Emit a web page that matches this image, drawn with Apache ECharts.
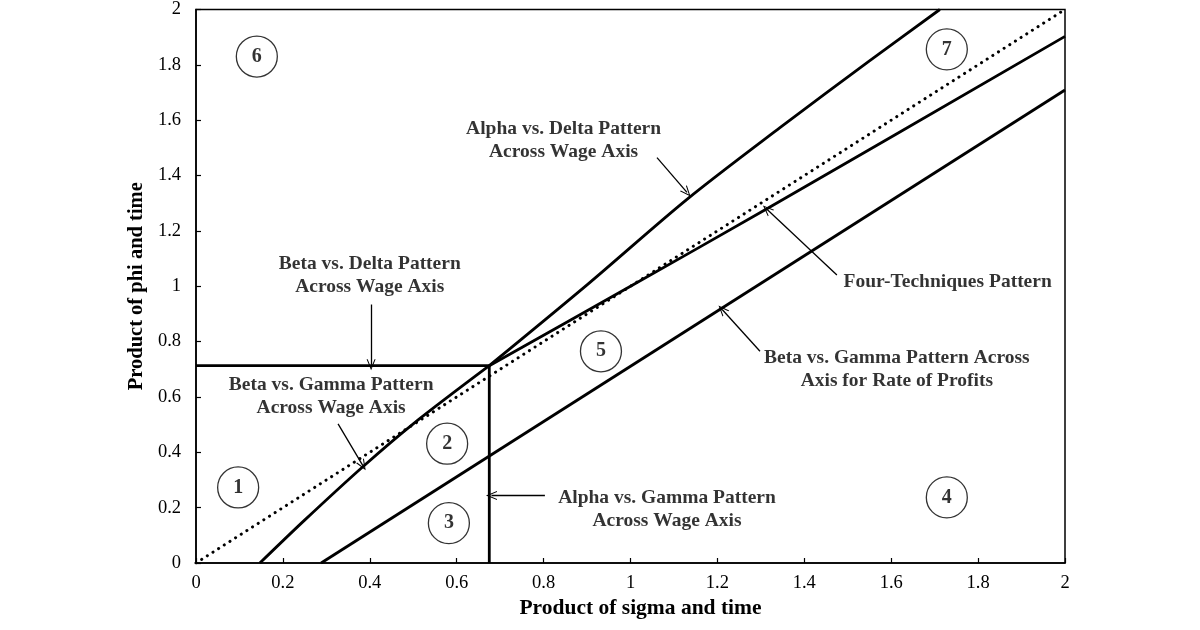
<!DOCTYPE html>
<html>
<head>
<meta charset="utf-8">
<script src="https://cdn.jsdelivr.net/npm/echarts@6/dist/echarts.min.js"></script>
<style>html,body{margin:0;padding:0;background:#fff}#c{width:1200px;height:630px}</style>
</head>
<body>
<div id="c"></div>
<script>
// ---- data ----
var xTicks = [0, 0.2, 0.4, 0.6, 0.8, 1, 1.2, 1.4, 1.6, 1.8, 2];
var yTicks = [0, 0.2, 0.4, 0.6, 0.8, 1, 1.2, 1.4, 1.6, 1.8, 2];
var diagonal = [[0, 0], [2, 2]];
var betaGammaWage = [[0.147, 0], [0.25, 0.155], [0.384, 0.348], [0.5, 0.503], [0.675, 0.713]];
var alphaDelta = [[0.675, 0.713], [0.9, 1.005], [1.13, 1.314], [1.344, 1.573], [1.55, 1.814], [1.712, 2]];
var fourTech = [[0.675, 0.713], [1.0, 1.0], [1.312, 1.278], [2, 1.903]];
var betaGammaProfit = [[0.288, 0], [2, 1.709]];
var betaDelta = [[0, 0.713], [0.675, 0.713]];
var alphaGamma = [[0.675, 0], [0.675, 0.713]];
var regions = [
  {name: '1', x: 0.097, y: 0.273},
  {name: '2', x: 0.578, y: 0.431},
  {name: '3', x: 0.582, y: 0.144},
  {name: '4', x: 1.728, y: 0.237},
  {name: '5', x: 0.932, y: 0.765},
  {name: '6', x: 0.140, y: 1.830},
  {name: '7', x: 1.728, y: 1.856}
];
var notes = [
  {text: 'Alpha vs. Delta Pattern\nAcross Wage Axis', x: 0.846, y: 1.526, from: [1.061, 1.465], to: [1.130, 1.339]},
  {text: 'Beta vs. Delta Pattern\nAcross Wage Axis', x: 0.400, y: 1.038, from: [0.403, 0.934], to: [0.403, 0.716]},
  {text: 'Beta vs. Gamma Pattern\nAcross Wage Axis', x: 0.311, y: 0.603, from: [0.327, 0.503], to: [0.384, 0.352]},
  {text: 'Alpha vs. Gamma Pattern\nAcross Wage Axis', x: 1.084, y: 0.194, from: [0.803, 0.244], to: [0.680, 0.244]},
  {text: 'Four-Techniques Pattern', x: 1.730, y: 1.016, from: [1.475, 1.041], to: [1.314, 1.278]},
  {text: 'Beta vs. Gamma Pattern Across\nAxis for Rate of Profits', x: 1.613, y: 0.700, from: [1.298, 0.765], to: [1.211, 0.916]}
];

var serif = '"Liberation Serif", "DejaVu Serif", serif';
var chevron = 'path://M0,10 L5,0 L10,10 L8.8,10 L5,2.4 L1.2,10 Z';

function solid(data) {
  return {type: 'line', data: data, smooth: 0.3, symbol: 'none', silent: true,
    lineStyle: {color: '#000', width: 2.8}, z: 3};
}

var series = [
  {type: 'line', data: diagonal, symbol: 'none', silent: true,
    lineStyle: {color: '#000', width: 3, type: [0.1, 6.6], cap: 'round'}, z: 2},
  solid(betaGammaWage),
  solid(alphaDelta),
  solid(fourTech),
  solid(betaGammaProfit),
  solid(betaDelta),
  solid(alphaGamma),
  {type: 'scatter', data: regions.map(function (r) { return [r.x, r.y, r.name]; }),
    symbol: 'circle', symbolSize: 41, silent: true, z: 5,
    itemStyle: {color: 'rgba(255,255,255,0)', borderColor: '#000', borderWidth: 1.3},
    label: {show: true, position: 'inside', formatter: function (p) { return p.data[2]; },
      fontFamily: serif, fontWeight: 'bold', fontSize: 20, color: '#000', textBorderWidth: 0}},
  {type: 'scatter', data: notes.map(function (n) { return [n.x, n.y, n.text]; }),
    symbolSize: 0, silent: true, z: 6,
    label: {show: true, position: 'inside', formatter: function (p) { return p.data[2]; },
      fontFamily: serif, fontWeight: 'bold', fontSize: 19.5, lineHeight: 23, color: '#000',
      align: 'center', textBorderWidth: 0},
    markLine: {silent: true, symbol: ['none', chevron], symbolSize: [9, 11],
      label: {show: false},
      lineStyle: {color: '#000', width: 1.3, type: 'solid'},
      data: notes.map(function (n) { return [{coord: n.from}, {coord: n.to}]; })}}
];

var chart = echarts.init(document.getElementById('c'));
chart.setOption({
  animation: false,
  backgroundColor: '#fff',
  grid: {left: 196, right: 135, top: 6, bottom: 67, show: true, borderColor: '#000', borderWidth: 1.5, backgroundColor: 'transparent'},
  xAxis: {type: 'value', min: 0, max: 2, interval: 0.2,
    name: 'Product of sigma and time', nameLocation: 'middle', nameGap: 33,
    nameTextStyle: {fontFamily: serif, fontWeight: 'bold', fontSize: 21.5, color: '#000', padding: [0, 0, 0, 20]},
    axisLine: {lineStyle: {color: '#000', width: 1.5}},
    axisTick: {inside: true, length: 5, lineStyle: {color: '#000', width: 1.2}},
    splitLine: {show: false},
    axisLabel: {fontFamily: serif, fontSize: 18.5, color: '#000', margin: 11,
      formatter: function (v) { return xTicks.indexOf(+v.toFixed(1)) >= 0 ? String(+v.toFixed(1)) : ''; }}},
  yAxis: {type: 'value', min: 0, max: 2, interval: 0.2,
    name: 'Product of phi and time', nameLocation: 'middle', nameGap: 40,
    nameTextStyle: {fontFamily: serif, fontWeight: 'bold', fontSize: 20.5, color: '#000'},
    axisLine: {lineStyle: {color: '#000', width: 1.5}},
    axisTick: {inside: true, length: 5, lineStyle: {color: '#000', width: 1.2}},
    splitLine: {show: false},
    axisLabel: {fontFamily: serif, fontSize: 18.5, color: '#000', margin: 15,
      formatter: function (v) { return yTicks.indexOf(+v.toFixed(1)) >= 0 ? String(+v.toFixed(1)) : ''; }}},
  series: series
});
</script>
</body>
</html>
